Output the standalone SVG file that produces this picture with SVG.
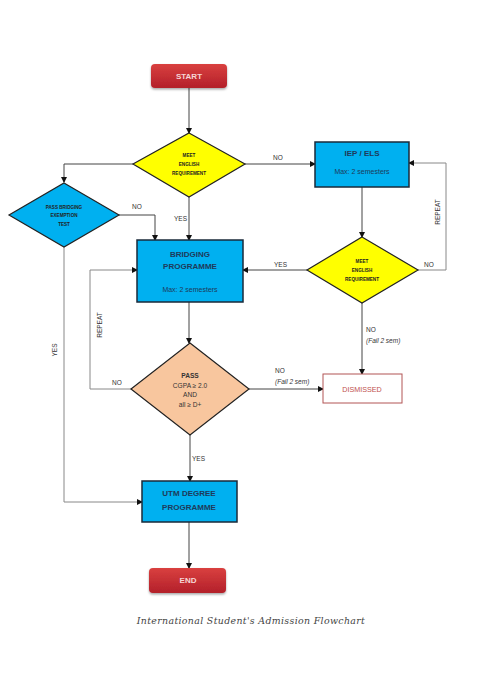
<svg xmlns="http://www.w3.org/2000/svg" width="480" height="679" viewBox="0 0 480 679">
<defs>
<linearGradient id="red" x1="0" y1="0" x2="0" y2="1">
<stop offset="0" stop-color="#d9403f"/>
<stop offset="1" stop-color="#b3202a"/>
</linearGradient>
<filter id="sh" x="-20%" y="-30%" width="140%" height="170%">
<feDropShadow dx="0" dy="1.5" stdDeviation="1.2" flood-color="#000" flood-opacity="0.35"/>
</filter>
<marker id="ah" markerWidth="6" markerHeight="6" refX="5" refY="3" orient="auto" markerUnits="userSpaceOnUse">
<path d="M0,0 L6,3 L0,6 z" fill="#111"/>
</marker>
</defs>
<style>
text{font-family:"Liberation Sans","Open Sans",Arial,sans-serif}
.term{fill:url(#red);filter:url(#sh)}
.tt{fill:#f6d6d6;font-size:8px;font-weight:bold;text-anchor:middle}
.box{fill:#00b0f0;stroke:#1a2a3a;stroke-width:1.5}
.bt{fill:#1f3a5a;font-size:8px;font-weight:bold;text-anchor:middle}
.bs{fill:#1f3a5a;font-size:7px;text-anchor:middle}
.dy{fill:#ffff00;stroke:#222;stroke-width:1.2}
.dt{fill:#222;font-size:4.6px;font-weight:bold;text-anchor:middle}
.db{fill:#00b0f0;stroke:#222;stroke-width:1.2}
.dp{fill:#f8c69e;stroke:#222;stroke-width:1.2}
.pt{fill:#333;font-size:6.6px;text-anchor:middle}
.c{fill:none;stroke:#444;stroke-width:1}
.c2{fill:none;stroke:#888;stroke-width:1}
.lb{fill:#333;font-size:6.5px}
.it{fill:#333;font-size:6.5px;font-style:italic}
.cap{font-family:"DejaVu Serif","Liberation Serif",serif;font-style:italic;font-size:9.4px;fill:#444;text-anchor:middle;letter-spacing:0.35px}
</style>
<g id="connectors">
<path class="c" d="M189,88 V133" marker-end="url(#ah)"/>
<path class="c" d="M245,164 H315" marker-end="url(#ah)"/>
<path class="c" d="M133,164 H64 V182" marker-end="url(#ah)"/>
<path class="c" d="M189,197 V240" marker-end="url(#ah)"/>
<path class="c" d="M119,215 H155 V240" marker-end="url(#ah)"/>
<path class="c" d="M362,187 V237" marker-end="url(#ah)"/>
<path class="c2" d="M418,270 H446 V163 H409" marker-end="url(#ah)"/>
<path class="c" d="M307,270 H243" marker-end="url(#ah)"/>
<path class="c" d="M189,302 V343" marker-end="url(#ah)"/>
<path class="c2" d="M131,389 H90 V270 H137" marker-end="url(#ah)"/>
<path class="c" d="M249,389 H323" marker-end="url(#ah)"/>
<path class="c" d="M362,303 V374" marker-end="url(#ah)"/>
<path class="c" d="M190,435 V481" marker-end="url(#ah)"/>
<path class="c2" d="M64,247 V502 H142" marker-end="url(#ah)"/>
<path class="c" d="M189,522 V568" marker-end="url(#ah)"/>
<text class="lb" x="273" y="160">NO</text>
<text class="lb" x="174" y="221">YES</text>
<text class="lb" x="132" y="209">NO</text>
<text class="lb" x="274" y="267">YES</text>
<text class="lb" x="424" y="267">NO</text>
<text class="lb" transform="translate(440,212) rotate(-90)" text-anchor="middle">REPEAT</text>
<text class="lb" transform="translate(102,325) rotate(-90)" text-anchor="middle">REPEAT</text>
<text class="lb" transform="translate(57,350) rotate(-90)" text-anchor="middle">YES</text>
<text class="lb" x="112" y="385">NO</text>
<text class="lb" x="275" y="373">NO</text>
<text class="it" x="275" y="384">(Fail 2 sem)</text>
<text class="lb" x="366" y="332">NO</text>
<text class="it" x="366" y="343">(Fail 2 sem)</text>
<text class="lb" x="192" y="461">YES</text>
</g>
<g id="start">
<rect class="term" x="151" y="64" width="76" height="24" rx="4"/>
<text class="tt" x="189" y="79">START</text>
</g>
<g id="meet1">
<polygon class="dy" points="189,133 245,164 189,197 133,164"/>
<text class="dt" x="189" y="157">MEET</text>
<text class="dt" x="189" y="166">ENGLISH</text>
<text class="dt" x="189" y="175">REQUIREMENT</text>
</g>
<g id="iep">
<rect class="box" x="315" y="142" width="94" height="45"/>
<text class="bt" x="362" y="156">IEP / ELS</text>
<text class="bs" x="362" y="174">Max: 2 semesters</text>
</g>
<g id="exempt">
<polygon class="db" points="64,183 119,215 64,247 9,215"/>
<text class="dt" x="64" y="209">PASS BRIDGING</text>
<text class="dt" x="64" y="217">EXEMPTION</text>
<text class="dt" x="64" y="226">TEST</text>
</g>
<g id="bridging">
<rect class="box" x="137" y="240" width="106" height="62"/>
<text class="bt" x="190" y="257">BRIDGING</text>
<text class="bt" x="190" y="269">PROGRAMME</text>
<text class="bs" x="190" y="292">Max: 2 semesters</text>
</g>
<g id="meet2">
<polygon class="dy" points="362,237 418,270 362,303 307,270"/>
<text class="dt" x="362" y="263">MEET</text>
<text class="dt" x="362" y="272">ENGLISH</text>
<text class="dt" x="362" y="281">REQUIREMENT</text>
</g>
<g id="pass">
<polygon class="dp" points="190,343 249,389 190,435 131,389"/>
<text class="pt" x="190" y="378" font-weight="bold">PASS</text>
<text class="pt" x="190" y="388">CGPA ≥ 2.0</text>
<text class="pt" x="190" y="397">AND</text>
<text class="pt" x="190" y="407">all ≥ D+</text>
</g>
<g id="dismissed">
<rect x="323" y="374" width="79" height="29" fill="#fff" stroke="#b25555" stroke-width="1"/>
<text x="362" y="392" fill="#c0504d" font-size="7.2px" text-anchor="middle">DISMISSED</text>
</g>
<g id="utm">
<rect class="box" x="142" y="481" width="95" height="41"/>
<text class="bt" x="189" y="496">UTM DEGREE</text>
<text class="bt" x="189" y="510">PROGRAMME</text>
</g>
<g id="end">
<rect class="term" x="149" y="568" width="77" height="25" rx="4"/>
<text class="tt" x="188" y="583">END</text>
</g>
<text class="cap" x="251" y="624">International Student's Admission Flowchart</text>
</svg>
